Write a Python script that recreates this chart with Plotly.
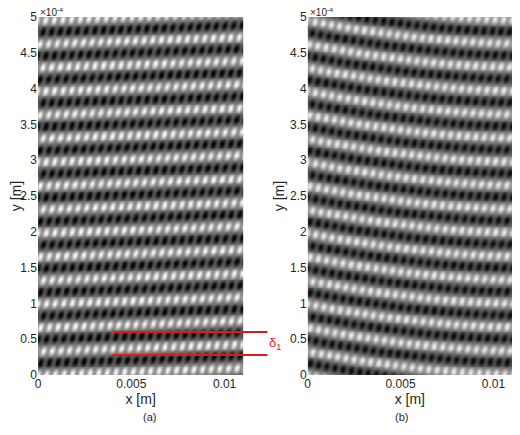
import numpy as np
import plotly.graph_objects as go

# grid of the recorded field
x = np.linspace(0, 0.011, 440)
y = np.linspace(0, 5e-4, 400)
X, Y = np.meshgrid(x, y)

# fringe parameters
fringe_period = [3.3e-5, 3.3e-5]      # (a), (b) vertical period [m]
fringe_tilt = [0.9e-3, 0.0]           # (a) linear tilt dy/dx
bend_depth = [0.0, 3.2e-5]            # (b) fringe drop across width [m]
hatch_period_x = [4.6e-4, 4.6e-4]     # fine diagonal carrier [m]
hatch_slope = [5.0e-5, 5.0e-5]
hatch_weight = [0.45, 0.35]
delta_y = [0.28e-4, 0.60e-4]          # red lines of delta_1
delta_x = [0.004, 0.0123]

yticks = [0, 0.5e-4, 1e-4, 1.5e-4, 2e-4, 2.5e-4, 3e-4, 3.5e-4, 4e-4, 4.5e-4, 5e-4]
ytext = ["0", "0.5", "1", "1.5", "2", "2.5", "3", "3.5", "4", "4.5", "5"]
xticks = [0, 0.005, 0.01]
xtext = ["0", "0.005", "0.01"]


def field(i):
    L = x.max()
    shift = fringe_tilt[i] * X - bend_depth[i] * (1 - (1 - X / L) ** 1.7)
    main = np.cos(2 * np.pi * (Y - shift) / fringe_period[i])
    hatch = np.cos(2 * np.pi * (X / hatch_period_x[i] - Y / hatch_slope[i]))
    return main * 0.8 + hatch_weight[i] * main * hatch


fig = go.Figure()
dom = [[0, 0.433], [0.569, 1.0]]
for i in range(2):
    xa = "x" if i == 0 else "x2"
    ya = "y" if i == 0 else "y2"
    fig.add_trace(go.Heatmap(x=x, y=y, z=field(i), colorscale="Gray",
                             zmin=-1.3, zmax=1.3,
                             showscale=False, xaxis=xa, yaxis=ya,
                             hoverinfo="skip"))

axis_style = dict(showline=False, ticks="", zeroline=False, showgrid=False,
                  automargin=False, tickfont=dict(size=12, color="#262626"))
fig.update_layout(
    width=504, height=419,
    margin=dict(l=30, r=0, t=9, b=52),
    paper_bgcolor="white", plot_bgcolor="white",
    font=dict(family="Liberation Sans, Arial", size=12, color="#262626"),
    xaxis=dict(domain=dom[0], range=[0, 0.011], tickvals=xticks, ticktext=xtext,
               title=dict(text="x [m]", standoff=2), **axis_style),
    xaxis2=dict(domain=dom[1], range=[0, 0.011], tickvals=xticks, ticktext=xtext,
                anchor="y2", title=dict(text="x [m]", standoff=2), **axis_style),
    yaxis=dict(range=[0, 5e-4], tickvals=yticks, ticktext=ytext,
               title=dict(text="y [m]", standoff=2), **axis_style),
    yaxis2=dict(range=[0, 5e-4], tickvals=yticks, ticktext=ytext, anchor="x2",
                title=dict(text="y [m]", standoff=2), **axis_style),
)

# red delta_1 lines, extending past the right edge of panel (a)
for yv in delta_y:
    fig.add_shape(type="line", xref="paper", yref="y",
                  x0=dom[0][0] + (dom[0][1] - dom[0][0]) * delta_x[0] / 0.011,
                  x1=dom[0][0] + (dom[0][1] - dom[0][0]) * delta_x[1] / 0.011,
                  y0=yv, y1=yv, line=dict(color="#e8151b", width=2))
fig.add_annotation(xref="paper", yref="y",
                   x=dom[0][0] + (dom[0][1] - dom[0][0]) * delta_x[1] / 0.011,
                   y=sum(delta_y) / 2, text="δ<sub>1</sub>", showarrow=False,
                   xanchor="left", font=dict(color="#e8151b", size=13))

for i in range(2):
    fig.add_annotation(xref="paper", yref="paper", x=dom[i][0], y=1.0,
                       text="×10<sup>-4</sup>", showarrow=False,
                       xanchor="left", yanchor="bottom", yshift=-3,
                       font=dict(size=10))
    fig.add_annotation(xref="paper", yref="paper", x=(dom[i][0] + dom[i][1]) / 2,
                       y=-0.095, text=["(a)", "(b)"][i], showarrow=False,
                       yanchor="top", font=dict(size=11))

fig.write_html("out.html")
